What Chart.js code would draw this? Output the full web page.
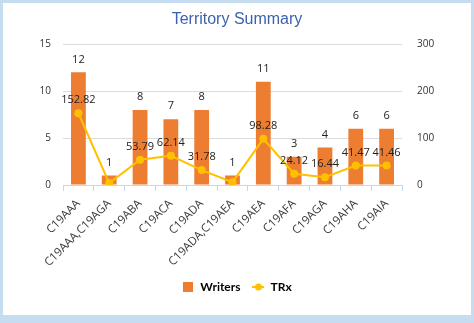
<!DOCTYPE html>
<html>
<head>
<meta charset="utf-8">
<script src="https://cdn.jsdelivr.net/npm/chart.js@4"></script>
<style>
  html, body { margin: 0; padding: 0; }
  body { width: 474px; height: 323px; background: #c6dcf1; position: relative; overflow: hidden; }
  #panel { position: absolute; left: 3px; top: 3px; width: 468px; height: 312px; background: #fff; }
</style>
</head>
<body>
<div id="panel"><canvas id="chart" width="468" height="312"></canvas></div>
<script>
const territories = ['C19AAA', 'C19AAA,C19AGA', 'C19ABA', 'C19ACA', 'C19ADA', 'C19ADA,C19AEA',
  'C19AEA', 'C19AFA', 'C19AGA', 'C19AHA', 'C19AIA'];
const writers = [12, 1, 8, 7, 8, 1, 11, 3, 4, 6, 6];
const trx = [152.82, 4, 53.79, 62.14, 31.78, 6, 98.28, 24.12, 16.44, 41.47, 41.46];
const leftTicks = [0, 5, 10, 15];
const rightTicks = [0, 100, 200, 300];

const ORANGE = '#ed7d31';
const GOLD = '#ffc000';
const labelFont = '11px "Open Sans", sans-serif';

// legend icons
function makeBox() {
  const c = document.createElement('canvas');
  c.width = 10; c.height = 10;
  const g = c.getContext('2d');
  g.fillStyle = ORANGE;
  g.fillRect(0, 0, 10, 10);
  return c;
}
function makeLineDot() {
  const c = document.createElement('canvas');
  c.width = 12; c.height = 8;
  const g = c.getContext('2d');
  g.strokeStyle = GOLD; g.lineWidth = 2;
  g.beginPath(); g.moveTo(0, 4); g.lineTo(12, 4); g.stroke();
  g.fillStyle = GOLD;
  g.beginPath(); g.arc(6, 4, 3.5, 0, Math.PI * 2); g.fill();
  return c;
}

// value labels, skipping ones that would overlap already drawn text
const valueLabels = {
  id: 'valueLabels',
  afterDatasetsDraw(chart) {
    const ctx = chart.ctx;
    ctx.save();
    ctx.font = labelFont;
    ctx.fillStyle = '#222';
    ctx.textAlign = 'center';
    ctx.textBaseline = 'middle';
    const boxes = [];
    const hits = b => boxes.some(o => b.x1 < o.x2 && b.x2 > o.x1 && b.y1 < o.y2 && b.y2 > o.y1);
    [0, 1].forEach(di => {
      const ds = chart.data.datasets[di];
      chart.getDatasetMeta(di).data.forEach((el, i) => {
        const txt = String(ds.data[i]);
        const w = ctx.measureText(txt).width;
        const y = el.y - 13;
        const b = { x1: el.x - w / 2, x2: el.x + w / 2, y1: y - 6, y2: y + 6 };
        if (hits(b)) return;
        boxes.push(b);
        ctx.fillText(txt, el.x, y);
      });
    });
    ctx.restore();
  }
};

new Chart(document.getElementById('chart'), {
  type: 'bar',
  data: {
    labels: territories,
    datasets: [{
      label: 'Writers',
      data: writers,
      backgroundColor: ORANGE,
      yAxisID: 'y',
      barPercentage: 0.48,
      categoryPercentage: 1,
      order: 2
    }, {
      type: 'line',
      label: 'TRx',
      data: trx,
      borderColor: GOLD,
      backgroundColor: GOLD,
      borderWidth: 2,
      pointRadius: 4,
      pointBackgroundColor: GOLD,
      pointBorderWidth: 0,
      yAxisID: 'y1',
      tension: 0,
      order: 1
    }]
  },
  options: {
    responsive: false,
    animation: false,
    layout: { padding: { top: 5, bottom: 12, left: 0, right: 0 } },
    plugins: {
      tooltip: { enabled: false },
      title: {
        display: true,
        text: 'Territory Summary',
        color: '#3c62ad',
        font: { family: 'Arial, "Liberation Sans", sans-serif', size: 16, weight: 'normal' },
        padding: { top: 2, bottom: 15 }
      },
      legend: {
        position: 'bottom',
        labels: {
          color: '#222',
          font: { family: 'Lato, sans-serif', size: 12, weight: 'bold' },
          usePointStyle: true,
          padding: 12,
          generateLabels(chart) {
            return chart.data.datasets.map((ds, i) => ({
              text: ds.label,
              pointStyle: i === 0 ? makeBox() : makeLineDot(),
              fillStyle: ds.backgroundColor,
              strokeStyle: ds.backgroundColor,
              lineWidth: 0,
              hidden: false,
              datasetIndex: i
            }));
          }
        }
      }
    },
    scales: {
      x: {
        afterFit(axis) { axis.height = 84; },
        grid: { display: true, drawOnChartArea: false, offset: true, color: '#c5d7ea', tickLength: 6 },
        border: { color: '#c5d7ea' },
        ticks: {
          color: '#3a3a3a',
          font: { family: '"Open Sans", sans-serif', size: 11.5 },
          minRotation: 45, maxRotation: 45, autoSkip: false, padding: 6
        }
      },
      y: {
        position: 'left',
        min: 0, max: 15,
        afterBuildTicks(axis) { axis.ticks = leftTicks.map(v => ({ value: v })); },
        afterFit(axis) { axis.width = 60; },
        grid: { color: '#dcdcdc', drawTicks: false },
        border: { display: false },
        ticks: { color: '#333', font: { family: '"Open Sans", sans-serif', size: 10 }, padding: 12 }
      },
      y1: {
        position: 'right',
        min: 0, max: 300,
        afterBuildTicks(axis) { axis.ticks = rightTicks.map(v => ({ value: v })); },
        afterFit(axis) { axis.width = 69; },
        grid: { drawOnChartArea: false, drawTicks: false },
        border: { display: false },
        ticks: { color: '#333', font: { family: '"Open Sans", sans-serif', size: 10 }, padding: 15 }
      }
    }
  },
  plugins: [valueLabels]
});
</script>
</body>
</html>
